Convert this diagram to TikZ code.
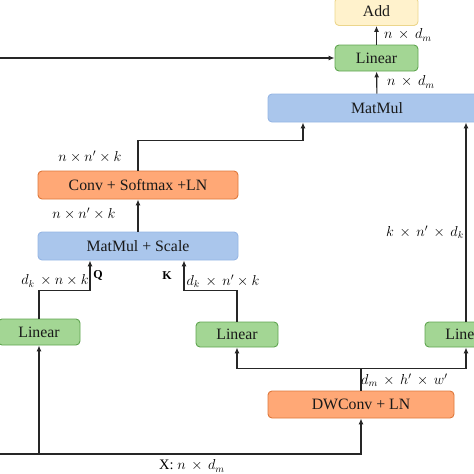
\documentclass[tikz,border=0pt]{standalone}
\usepackage{fontspec}
\setmainfont{Liberation Serif}
\usetikzlibrary{arrows.meta,calc}
\definecolor{gfill}{RGB}{163,214,148}
\definecolor{gdraw}{RGB}{96,165,80}
\definecolor{bfill}{RGB}{170,198,236}
\definecolor{bdraw}{RGB}{150,182,228}
\definecolor{ofill}{RGB}{255,168,118}
\definecolor{odraw}{RGB}{222,120,60}
\definecolor{yfill}{RGB}{255,242,204}
\definecolor{ydraw}{RGB}{236,214,140}
\tikzset{
  box/.style={rounded corners=4pt, line width=0.9pt, inner sep=0pt, font=\fontsize{15.8}{18}\selectfont, text=black!90},
  gbox/.style={box, fill=gfill, draw=gdraw},
  bbox/.style={box, fill=bfill, draw=bdraw},
  obox/.style={box, fill=ofill, draw=odraw},
  ybox/.style={box, fill=yfill, draw=ydraw},
  arr/.style={-{Latex[length=6pt,width=5pt]}, line width=1.1pt, draw=black!85},
  lbl/.style={font=\fontsize{14.5}{16}\selectfont, inner sep=0pt, text=black},
  qk/.style={inner sep=0pt, text=black, font=\fontsize{12}{14}\selectfont\bfseries}
}
\begin{document}
\begin{tikzpicture}[x=1pt,y=-1pt]
\useasboundingbox (0,0) rectangle (474,474);
\clip (0,0) rectangle (474,474);
\node[ybox, minimum width=83pt, minimum height=28pt] (add) at (376.5,11.5) {Add};
\node[gbox, minimum width=83pt, minimum height=26pt] (lin) at (376.5,58) {Linear};
\node[bbox, minimum width=218pt, minimum height=28pt] (mm) at (377,108) {MatMul};
\node[obox, minimum width=200pt, minimum height=28pt] (conv) at (138,185) {Conv + Softmax +LN};
\node[bbox, minimum width=200pt, minimum height=28pt] (mms) at (138,246) {MatMul + Scale};
\node[gbox, minimum width=82pt, minimum height=26pt] (linL) at (39,332) {Linear};
\node[gbox, minimum width=82pt, minimum height=25pt] (linM) at (237,334.5) {Linear};
\node[gbox, minimum width=82pt, minimum height=25pt] (linR) at (466,334.5) {Linear};
\node[obox, minimum width=186pt, minimum height=27pt] (dw) at (361,404.5) {DWConv + LN};
\coordinate (lstart) at (0,58);
\coordinate (xin) at (0,454);
% connectors
\draw[arr] (lin) -- (add);
\draw[arr] (lstart) -- (lin.west);
\draw[arr] (mm) -- (lin);
\draw[arr] (conv.north) -- ++(0,-30) -| ([xshift=-74pt]mm.south);
\draw[arr] (mms) -- (conv);
\draw[arr] (linL.north) -- ++(0,-28) -| ([xshift=-48pt]mms.south);
\draw[arr] (linM.north) -- ++(0,-31) -| ([xshift=46pt]mms.south);
\draw[arr] (linR.north) -- (linR.north |- mm.south);
\draw[arr] (dw.north) -- ++(0,-22) -| (linM.south);
\draw[arr] (dw.north) -- ++(0,-22) -| (linR.south);
\draw[arr] (xin) -| (dw.south);
\draw[arr] (linL.south |- xin) -- (linL.south);
% labels
\node[lbl, anchor=west] (l1) at (384,35) {$n\,\times\,d_m$};
\node[lbl, anchor=west] (l2) at (387,82) {$n\,\times\,d_m$};
\node[lbl] (l3) at (90,157) {$n \times n' \times k$};
\node[lbl] (l4) at (84,214) {$n \times n' \times k$};
\node[lbl] (l5) at (55,281) {$d_k\, \times n \times k$};
\node[qk] (q) at (98,275) {Q};
\node[qk] (k) at (167,276) {K};
\node[lbl] (l6) at (223,281) {$d_k\,\times\, n' \times k$};
\node[lbl, anchor=east] (l7) at (464,232) {$k\,\times\, n'\,\times\, d_k$};
\node[lbl, anchor=west] (l8) at (361,380) {$d_m\,\times\, h'\,\times\, w'$};
\node[lbl] (l9) at (192,466) {X: $n\,\times\, d_m$};
\end{tikzpicture}
\end{document}
